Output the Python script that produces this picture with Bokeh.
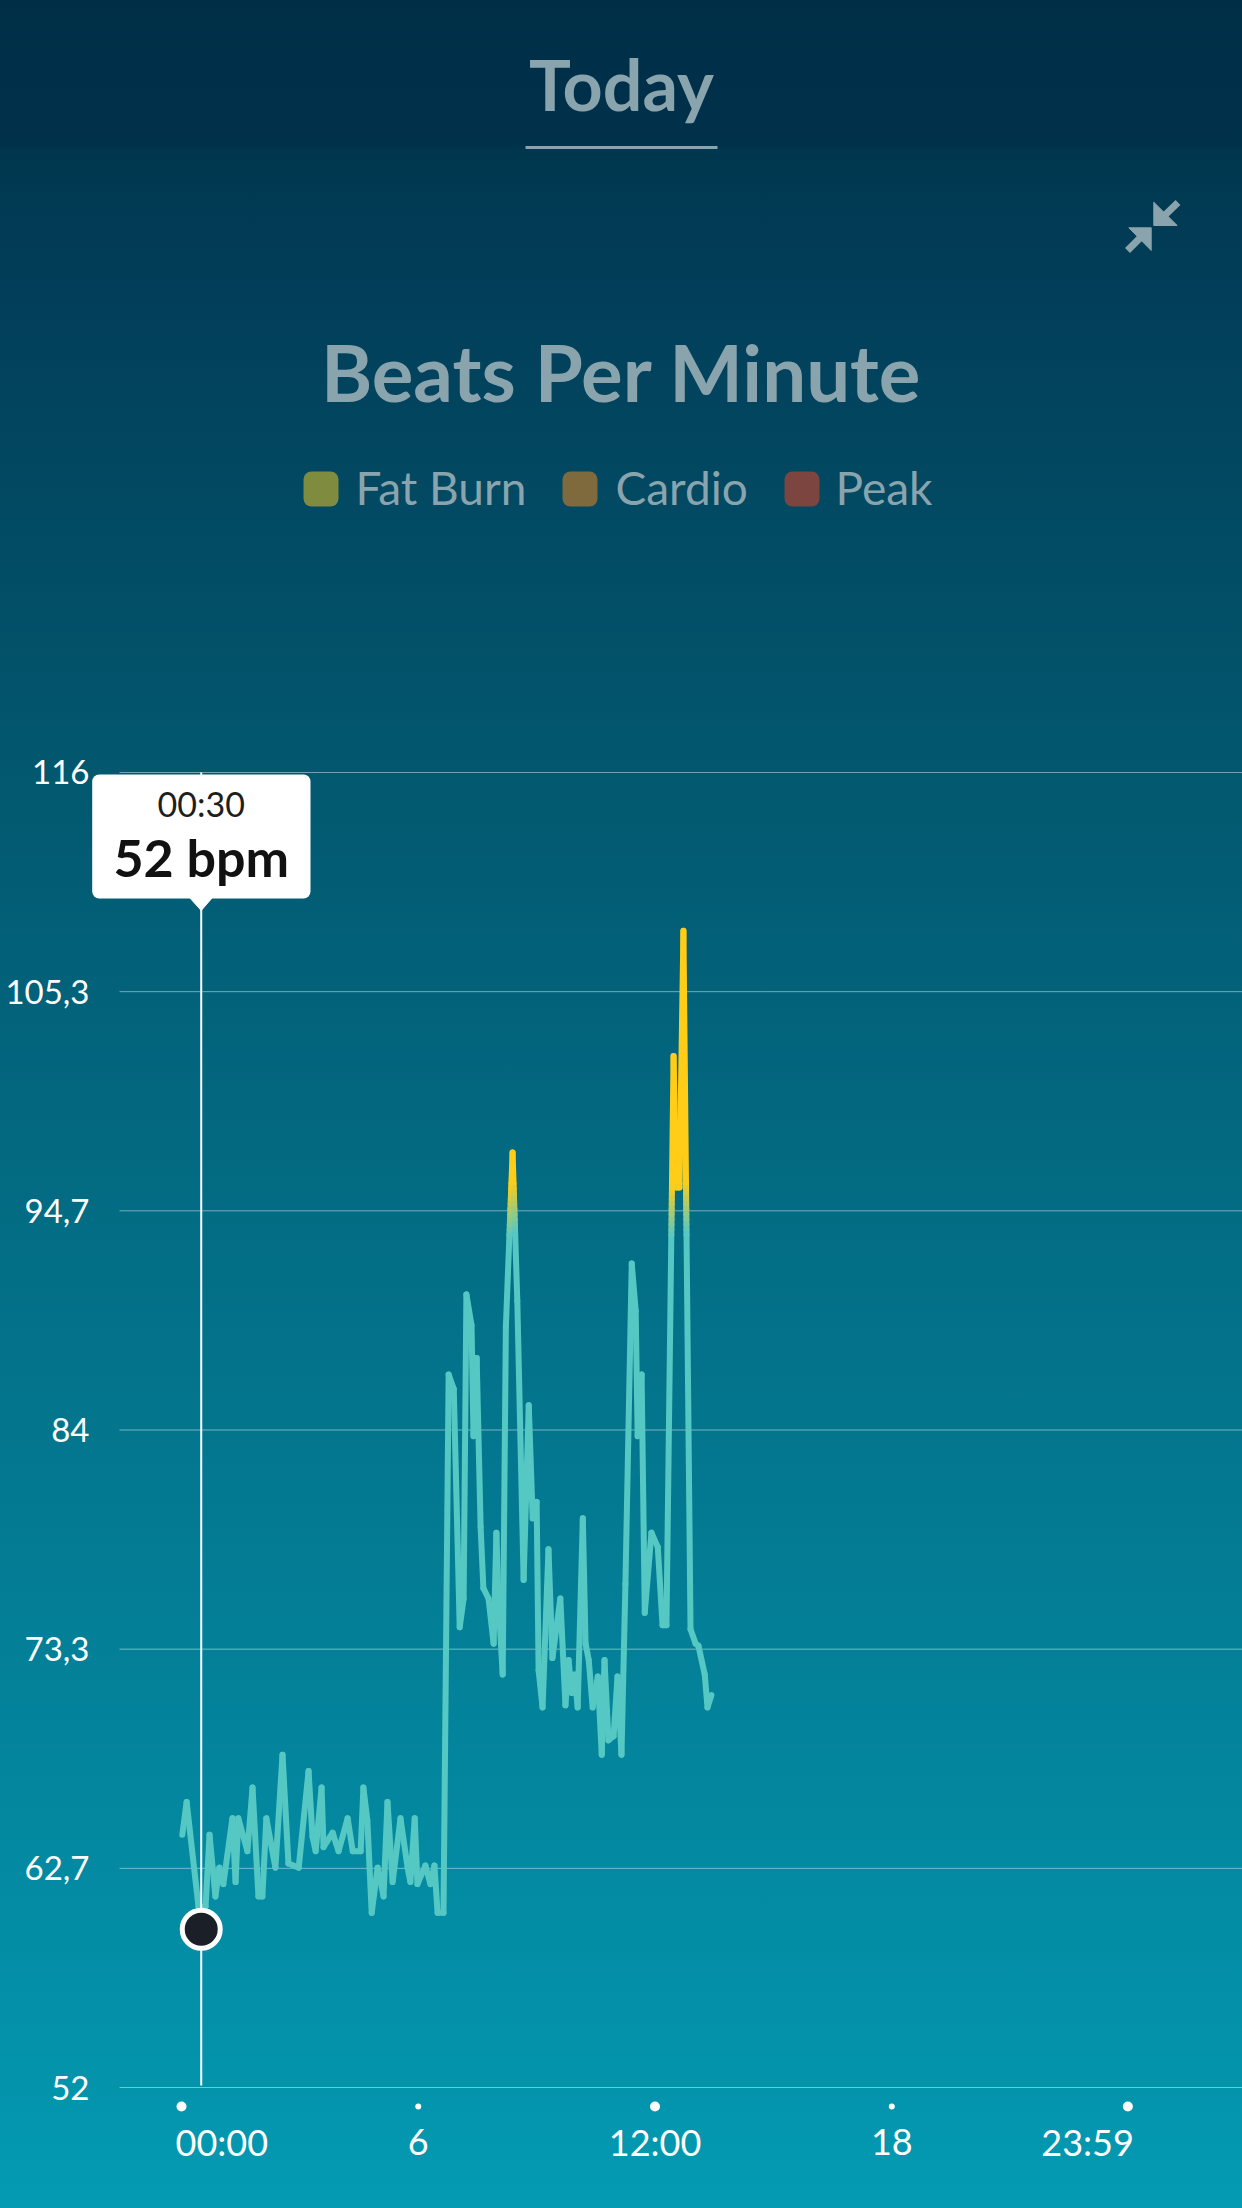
import numpy as np
from bokeh.plotting import figure
from bokeh.models import Range1d, BoxAnnotation
from bokeh.core.properties import value
from bokeh.embed import file_html
from bokeh.resources import INLINE

# ---------------- data ----------------
hours = [0.02, 0.13, 0.43, 0.61, 0.71, 0.86, 0.96, 1.06, 1.29, 1.37, 1.44, 1.57, 1.67, 1.80,
         1.95, 2.05, 2.15, 2.38, 2.56, 2.71, 2.97, 3.22, 3.32, 3.40, 3.55, 3.60, 3.83, 3.98,
         4.21, 4.34, 4.54, 4.61, 4.71, 4.82, 4.97, 5.04, 5.12, 5.22, 5.35, 5.55, 5.73, 5.80,
         5.91, 5.98, 6.18, 6.31, 6.41, 6.49, 6.64, 6.77, 6.90, 7.05, 7.15, 7.22, 7.35, 7.40,
         7.48, 7.58, 7.65, 7.78, 7.91, 7.98, 8.03, 8.14, 8.22, 8.39, 8.51, 8.67, 8.80, 8.90,
         9.00, 9.05, 9.15, 9.30, 9.40, 9.60, 9.73, 9.81, 9.89, 9.96, 10.04, 10.17, 10.24,
         10.32, 10.42, 10.55, 10.65, 10.72, 10.82, 10.95, 11.05, 11.15, 11.25, 11.41, 11.51,
         11.56, 11.66, 11.74, 11.91, 12.07, 12.19, 12.29, 12.47, 12.54, 12.62, 12.72, 12.90,
         13.03, 13.10, 13.26, 13.33, 13.43]
bpm = [64.3, 65.9, 60.8, 60.8, 64.3, 61.3, 62.7, 61.9, 65.1, 62.0, 65.1, 64.2, 63.5, 66.6,
       61.3, 61.3, 65.1, 62.7, 68.2, 62.9, 62.7, 67.4, 64.2, 63.5, 66.6, 63.7, 64.4, 63.5,
       65.1, 63.5, 63.5, 66.6, 65.0, 60.5, 62.7, 62.1, 61.3, 65.9, 62.0, 65.1, 62.7, 62.0,
       65.1, 61.9, 62.8, 61.9, 62.8, 60.5, 60.5, 86.7, 86.0, 74.4, 75.8, 90.6, 89.1, 83.7,
       87.5, 79.3, 76.3, 75.8, 73.6, 79.0, 75.8, 72.1, 89.0, 97.5, 90.3, 76.7, 85.2, 79.7,
       80.5, 72.3, 70.5, 78.2, 72.9, 75.8, 70.6, 72.8, 71.2, 72.1, 70.5, 79.7, 73.6,
       72.8, 70.5, 72.0, 68.2, 72.8, 68.9, 69.1, 72.0, 68.2, 76.5, 92.1, 89.8,
       83.7, 86.7, 75.1, 79.0, 78.3, 74.5, 74.5, 102.2, 95.8, 95.8, 108.3, 74.3,
       73.6, 73.5, 72.1, 70.5, 71.1]

y_tick_values = [52, 62.6667, 73.3333, 84, 94.6667, 105.3333, 116]
y_tick_labels = ["52", "62,7", "73,3", "84", "94,7", "105,3", "116"]
x_tick_hours = [0, 6, 12, 18, 23.983]
x_tick_labels = ["00:00", "6", "12:00", "18", "23:59"]
x_tick_major = [True, False, True, False, True]

zone_names = ["Fat Burn", "Cardio", "Peak"]
zone_colors = ["#7f8b3e", "#7e6a3c", "#7d4540"]

title_top = "Today"
chart_title = "Beats Per Minute"
tooltip_hour = 0.5
tooltip_time = "00:30"
tooltip_value = "52 bpm"
tooltip_marker_bpm = 59.7
fatburn_lo, fatburn_hi = 93.5, 96.0

# ---------------- layout helpers (page pixels -> data) ----------------
W, H = 1242, 2208
X0_PX, PX_PER_H = 181.0, 39.46
Y52_PX, PX_PER_BPM = 2087.0, 20.547


def hx(px):
    return (px - X0_PX) / PX_PER_H


def by(py):
    return 52 + (Y52_PX - py) / PX_PER_BPM


p = figure(width=W, height=H, output_backend="svg", toolbar_location=None,
           x_range=Range1d(hx(0), hx(W)), y_range=Range1d(by(H), by(0)),
           x_axis_location=None, y_axis_location=None, min_border=0,
           outline_line_color=None, background_fill_alpha=0, border_fill_alpha=0)
p.xgrid.visible = False
p.ygrid.visible = False
p.styles = {"background": "linear-gradient(180deg, #002e47 0px, #00314b 146px, #00374f 150px, "
                          "#023f5a 310px, #02586f 772px, #03768e 1430px, #0394ac 2087px, #049bb3 2208px)"}

TXT = "#8aa4ae"
FONT = value("Lato")

# header
p.text(x=[hx(621)], y=[by(83)], text=[title_top], text_font=FONT, text_font_size="70px",
       text_font_style="bold", text_color=TXT, text_align="center", text_baseline="middle")
p.segment(x0=[hx(525)], y0=[by(147)], x1=[hx(717)], y1=[by(147)], line_color=TXT, line_width=3)

# compress icon
p.patches(xs=[[hx(1153.3), hx(1153.3), hx(1176.7)], [hx(1128.3), hx(1150.7), hx(1150.7)]],
          ys=[[by(201.7), by(225), by(225)], [by(227.3), by(227.3), by(250)]],
          fill_color=TXT, line_color=TXT, line_width=1)
p.segment(x0=[hx(1163), hx(1127)], y0=[by(216), by(250)], x1=[hx(1177.5), hx(1142)],
          y1=[by(202), by(235)], line_color=TXT, line_width=7)

p.text(x=[hx(621)], y=[by(371)], text=[chart_title], text_font=FONT, text_font_size="78px",
       text_font_style="bold", text_color=TXT, text_align="center", text_baseline="middle")

# legend
sq_left = [303, 562, 784]
lab_left = [355, 615, 835]
for name, col, sl, ll in zip(zone_names, zone_colors, sq_left, lab_left):
    p.add_layout(BoxAnnotation(left=hx(sl), right=hx(sl + 35), top=by(471), bottom=by(506),
                               fill_color=col, fill_alpha=1, line_color=None, border_radius=8,
                               level="underlay"))
    p.text(x=[hx(ll)], y=[by(487)], text=[name], text_font=FONT, text_font_size="46px",
           text_color=TXT, text_align="left", text_baseline="middle")

# grid lines
p.segment(x0=[hx(119)] * len(y_tick_values), y0=y_tick_values,
          x1=[hx(W)] * len(y_tick_values), y1=y_tick_values,
          line_color="white", line_alpha=0.45, line_width=1)
# y labels
p.text(x=[hx(89)] * len(y_tick_values), y=y_tick_values, text=y_tick_labels, text_font=FONT,
       text_font_size="33px", text_color="white", text_align="right", text_baseline="middle")

# x ticks
maj_x = [h for h, m in zip(x_tick_hours, x_tick_major) if m]
min_x = [h for h, m in zip(x_tick_hours, x_tick_major) if not m]
p.scatter(x=maj_x, y=[by(2106)] * len(maj_x), size=10, fill_color="white", line_color=None)
p.scatter(x=min_x, y=[by(2106)] * len(min_x), size=6, fill_color="white", line_color=None)
aligns = ["left", "center", "center", "center", "right"]
offs = [-6, 0, 0, 0, 6]
for h, lab, al, of in zip(x_tick_hours, x_tick_labels, aligns, offs):
    p.text(x=[h], y=[by(2141)], text=[lab], text_font=FONT, text_font_size="36px",
           text_color="white", text_align=al, text_baseline="middle", x_offset=of)

# heart-rate line, coloured by zone
c0 = np.array([0x55, 0xc8, 0xc4])
c1 = np.array([0xff, 0xcd, 0x18])


def col_for(v):
    t = min(max((v - fatburn_lo) / (fatburn_hi - fatburn_lo), 0.0), 1.0)
    c = np.round(c0 + (c1 - c0) * t).astype(int)
    return "#%02x%02x%02x" % tuple(c)


levels = np.linspace(fatburn_lo, fatburn_hi, 11)
sx0, sy0, sx1, sy1, scol = [], [], [], [], []
for i in range(len(hours) - 1):
    xa, ya, xb, yb = hours[i], bpm[i], hours[i + 1], bpm[i + 1]
    ts = [0.0, 1.0]
    for L in levels:
        if (ya - L) * (yb - L) < 0:
            ts.append((L - ya) / (yb - ya))
    ts.sort()
    for t0, t1 in zip(ts[:-1], ts[1:]):
        sx0.append(xa + (xb - xa) * t0)
        sy0.append(ya + (yb - ya) * t0)
        sx1.append(xa + (xb - xa) * t1)
        sy1.append(ya + (yb - ya) * t1)
        scol.append(col_for(ya + (yb - ya) * (t0 + t1) / 2))
p.segment(x0=sx0, y0=sy0, x1=sx1, y1=sy1, line_color=scol, line_width=6, line_cap="round",
          line_join="round")

# tooltip
p.segment(x0=[tooltip_hour], y0=[116], x1=[tooltip_hour], y1=[by(2085)], line_color="white",
          line_width=2)
p.add_layout(BoxAnnotation(left=hx(91.7), right=hx(310), top=by(774), bottom=by(898),
                           fill_color="white", fill_alpha=1, line_color=None, border_radius=7))
tri = p.patch(x=[hx(189), hx(212), hx(200.7)], y=[by(897), by(897), by(910)], fill_color="white",
              line_color="white")
tri.level = "overlay"
t1r = p.text(x=[tooltip_hour], y=[by(803)], text=[tooltip_time], text_font=FONT,
             text_font_size="34px", text_color="#1e1e1e", text_align="center",
             text_baseline="middle")
t1r.level = "overlay"
t2r = p.text(x=[tooltip_hour], y=[by(856)], text=[tooltip_value], text_font=FONT,
             text_font_size="52px", text_font_style="bold", text_color="#111111",
             text_align="center", text_baseline="middle")
t2r.level = "overlay"
p.scatter(x=[tooltip_hour], y=[tooltip_marker_bpm], size=38, fill_color="#1b1f27",
          line_color="white", line_width=5)

open("out.html", "w").write(file_html(p, INLINE))
